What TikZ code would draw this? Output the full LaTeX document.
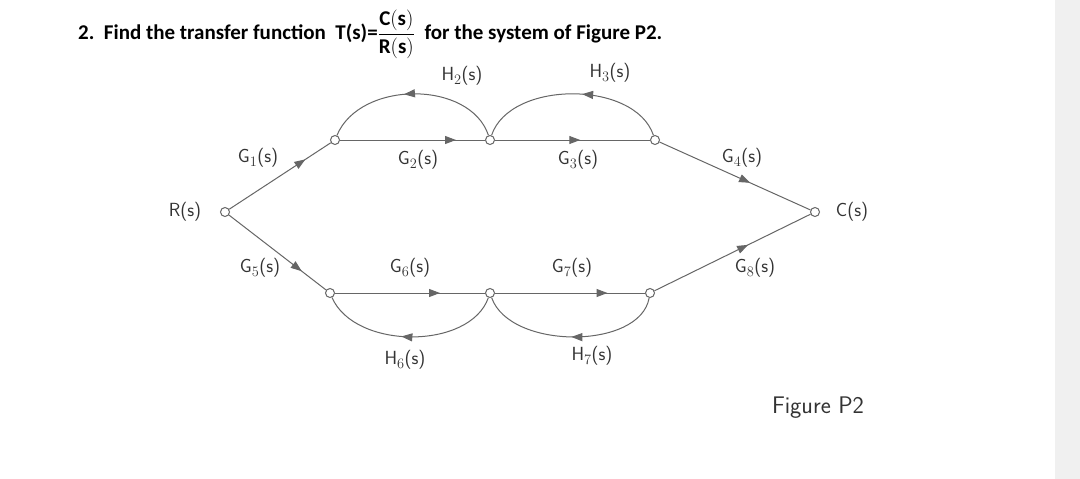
\documentclass[tikz,border=0pt]{standalone}
\usepackage{fontspec}
\setmainfont{Carlito}
\usetikzlibrary{decorations.markings,arrows.meta}
\begin{document}
\begin{tikzpicture}[x=1pt,y=-1pt,
  pen/.style={draw=black!60,line width=1pt},
  junc/.style={circle,draw=black!60,line width=1pt,fill=white,inner sep=0pt,minimum size=9pt},
  lab/.style={font=\sffamily\fontsize{19}{22}\selectfont,text=black!80},
  mid/.style={postaction={decorate},decoration={markings,mark=at position #1 with {\arrow{Triangle[length=11pt,width=8pt]}}}}]
\useasboundingbox (0,0) rectangle (1080,479);
\fill[white] (0,0) rectangle (1080,479);
\fill[black!6] (1055,0) rectangle (1080,479);
\node[anchor=west,font=\bfseries\fontsize{21}{24}\selectfont,inner sep=0pt] (hdr) at (78,34) {2.\ \ Find the transfer function \ T(s)=$\displaystyle\frac{\mathbf{C(s)}}{\mathbf{R(s)}}$ \ for the system of Figure P2.};
\node[junc] (r) at (225,212) {};
\node[junc] (a) at (335,140) {};
\node[junc] (b) at (490,140) {};
\node[junc] (c) at (655,140) {};
\node[junc] (d) at (330,293) {};
\node[junc] (e) at (490,293) {};
\node[junc] (f) at (650,293) {};
\node[junc] (cc) at (815,212) {};
\draw[pen,mid=0.75] (r) -- (a);
\draw[pen,mid=0.8] (a) -- (b);
\draw[pen,mid=0.55] (b) -- (c);
\draw[pen,mid=0.6] (c) -- (cc);
\draw[pen,mid=0.75] (r) -- (d);
\draw[pen,mid=0.7] (d) -- (e);
\draw[pen,mid=0.75] (e) -- (f);
\draw[pen,mid=0.6] (f) -- (cc);
\draw[pen,mid=0.55] (b) .. controls (470,80) and (360,80) .. (a);
\draw[pen,mid=0.45] (c) .. controls (635,80) and (510,80) .. (b);
\draw[pen,mid=0.55] (e) .. controls (470,350) and (355,350) .. (d);
\draw[pen,mid=0.5] (f) .. controls (640,350) and (510,350) .. (e);
\node[lab] (lr) at (185,212) {R(s)};
\node[lab] (lcc) at (852,212) {C(s)};
\node[lab] (l1) at (258,158) {G$_1$(s)};
\node[lab] (l2) at (418,160) {G$_2$(s)};
\node[lab] (l3) at (578,160) {G$_3$(s)};
\node[lab] (l4) at (742,158) {G$_4$(s)};
\node[lab] (l5) at (260,268) {G$_5$(s)};
\node[lab] (l6) at (410,268) {G$_6$(s)};
\node[lab] (l7) at (572,268) {G$_7$(s)};
\node[lab] (l8) at (755,268) {G$_8$(s)};
\node[lab] (h2) at (462,76) {H$_2$(s)};
\node[lab] (h3) at (610,73) {H$_3$(s)};
\node[lab] (h6) at (405,360) {H$_6$(s)};
\node[lab] (h7) at (592,356) {H$_7$(s)};
\node[lab,font=\sffamily\fontsize{24}{28}\selectfont] (fig) at (818,408) {Figure P2};
\end{tikzpicture}
\end{document}
